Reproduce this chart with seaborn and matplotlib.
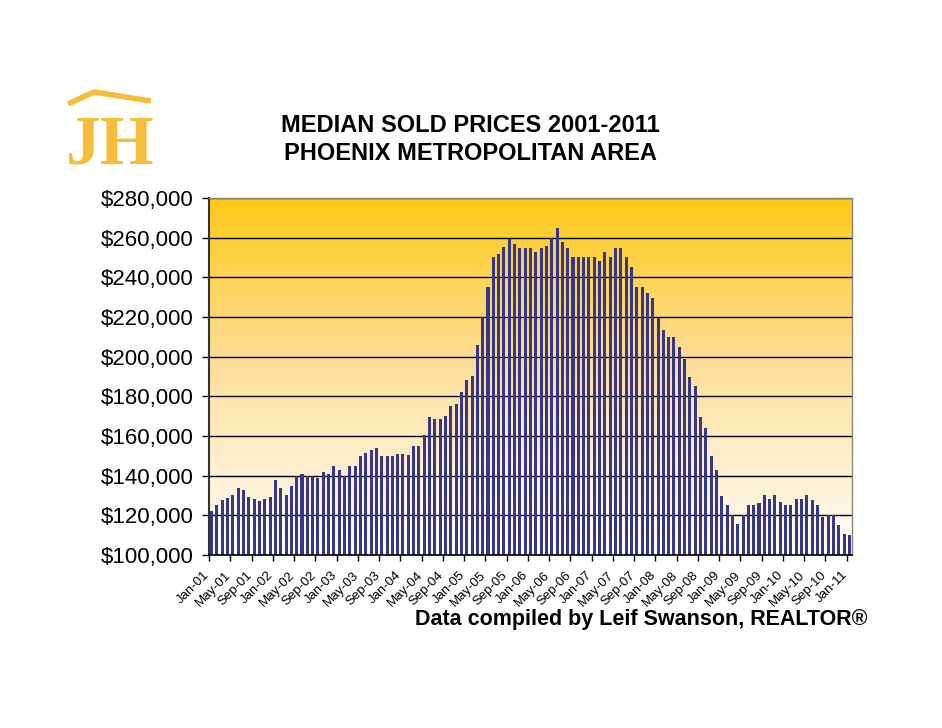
import numpy as np
import pandas as pd
import matplotlib
matplotlib.use("Agg")
import matplotlib.pyplot as plt
import matplotlib.transforms as mtransforms
from matplotlib.lines import Line2D
from matplotlib.ticker import FixedLocator
import seaborn as sns


# monthly median sold price, Jan-01 .. Jan-11
prices = [
	122000, 125000, 127500, 128500, 130000, 134000, 133000, 129000, 128000, 127000, 128000, 129000,
	138000, 134000, 130000, 135000, 140000, 141000, 140000, 140000, 139000, 142000, 141000, 145000,
	143000, 140000, 145000, 145000, 150000, 151500, 153000, 154000, 150000, 150000, 149700, 151000,
	150700, 150200, 155000, 155000, 160700, 169400, 168400, 168400, 170000, 175000, 176000, 182000,
	188000, 190000, 206000, 220000, 235000, 250000, 252000, 255500, 259500, 256600, 255000, 255000,
	255000, 253000, 255000, 256000, 260000, 265000, 257600, 255000, 250000, 250000, 250000, 250000,
	250000, 248000, 252600, 250000, 255000, 255000, 250000, 245000, 235000, 235000, 232300, 229600,
	219600, 213400, 209700, 209700, 204800, 198800, 189900, 185000, 169700, 164000, 150000, 143000,
	129800, 125000, 120000, 115500, 120000, 125200, 125200, 126200, 130000, 128200, 130000, 126700,
	125000, 125000, 128000, 128000, 130000, 127500, 125000, 119200, 120000, 120000, 115000, 110500,
	110200,
]
month_names = ["Jan", "Feb", "Mar", "Apr", "May", "Jun", "Jul", "Aug", "Sep", "Oct", "Nov", "Dec"]
months = [f"{month_names[i % 12]}-{1 + i // 12:02d}" for i in range(len(prices))]
y_ticks = [100000, 120000, 140000, 160000, 180000, 200000, 220000, 240000, 260000, 280000]

title_lines = ["MEDIAN SOLD PRICES 2001-2011", "PHOENIX METROPOLITAN AREA"]
footer = "Data compiled by Leif Swanson, REALTOR\u00ae"

BAR_COLOR = "#36368a"
GOLD = "#f5bd3a"


def gradient_background(fig, rect):
	bg = fig.add_axes(rect, zorder=0)
	top = np.array([255, 202, 24]) / 255
	mid = np.array([253, 222, 150]) / 255
	bot = np.array([255, 254, 252]) / 255
	t = np.linspace(0, 1, 256)[:, None]
	low = bot + (mid - bot) * np.clip(t / 0.55, 0, 1)
	high = mid + (top - mid) * np.clip((t - 0.55) / 0.45, 0, 1)
	cols = np.where(t < 0.55, low, high)
	img = np.repeat(cols[:, None, :], 2, axis=1)
	bg.imshow(img, origin="lower", aspect="auto", extent=[0, 1, 0, 1])
	bg.set_axis_off()


def prices_chart() -> None:
	df = pd.DataFrame({"month": months, "price": prices})
	fig = plt.figure(figsize=(9.42, 7.28), dpi=100)
	rect = [209 / 942, 1 - 555 / 728, (852 - 209) / 942, (555 - 198) / 728]
	gradient_background(fig, rect)
	ax = fig.add_axes(rect, zorder=1)
	ax.set_facecolor("none")

	sns.barplot(
		data=df,
		x="month",
		y="price",
		color=BAR_COLOR,
		saturation=1,
		width=0.57,
		ax=ax,
	)
	ax.set_xlim(-0.5, len(prices) - 0.5)
	ax.set_ylim(y_ticks[0], y_ticks[-1])
	ax.set_yticks(y_ticks)
	ax.set_yticklabels([f"${v:,.0f}" for v in y_ticks], fontsize=16)
	ax.yaxis.grid(True, color="black", linewidth=1)
	ax.set_axisbelow(True)

	label_pos = list(range(0, len(prices), 4))
	ax.set_xticks(label_pos)
	ax.set_xticklabels([months[i] for i in label_pos], rotation=45, ha="right",
		rotation_mode="anchor", fontsize=9.5)
	ax.xaxis.set_minor_locator(FixedLocator([p - 0.5 for p in label_pos]))
	ax.tick_params(axis="x", which="major", length=0, pad=10)
	ax.tick_params(axis="x", which="minor", length=4, width=1, color="black", direction="out")
	ax.tick_params(axis="y", length=5, width=1, color="black", direction="out", pad=6)
	# nudge rotated month labels left, like the original
	shift = mtransforms.ScaledTranslation(-0.08, 0, fig.dpi_scale_trans)
	for lab in ax.get_xticklabels():
		lab.set_transform(lab.get_transform() + shift)
	ax.set_xlabel("")
	ax.set_ylabel("")

	ax.spines["left"].set_color("#333333")
	ax.spines["left"].set_linewidth(1.5)
	ax.spines["bottom"].set_color("black")
	ax.spines["bottom"].set_linewidth(1.2)
	for side in ["top", "right"]:
		ax.spines[side].set_color("#8a8a70")
		ax.spines[side].set_linewidth(1)

	fig.text(0.499, 1 - 125 / 728, title_lines[0], ha="center", va="center",
		fontsize=17, fontweight="bold")
	fig.text(0.499, 1 - 153 / 728, title_lines[1], ha="center", va="center",
		fontsize=17, fontweight="bold")
	fig.text(641 / 942, 1 - 620 / 728, footer, ha="center", va="center",
		fontsize=15.5, fontweight="bold")

	# logo
	fig.text(110 / 942, 1 - 164 / 728, "JH", ha="center", va="baseline",
		fontsize=50, fontweight="bold", color=GOLD, family="Liberation Serif")
	roof = [(68, 104), (94, 92), (151, 101)]
	fig.add_artist(Line2D([p[0] / 942 for p in roof], [1 - p[1] / 728 for p in roof],
		transform=fig.transFigure, color=GOLD, linewidth=4, solid_capstyle="butt"))

	fig.savefig("out.png", dpi=100)
	plt.close(fig)


def main():
	plt.rcParams["font.family"] = ["Liberation Sans", "DejaVu Sans"]
	prices_chart()


if __name__ == "__main__":
	main()
